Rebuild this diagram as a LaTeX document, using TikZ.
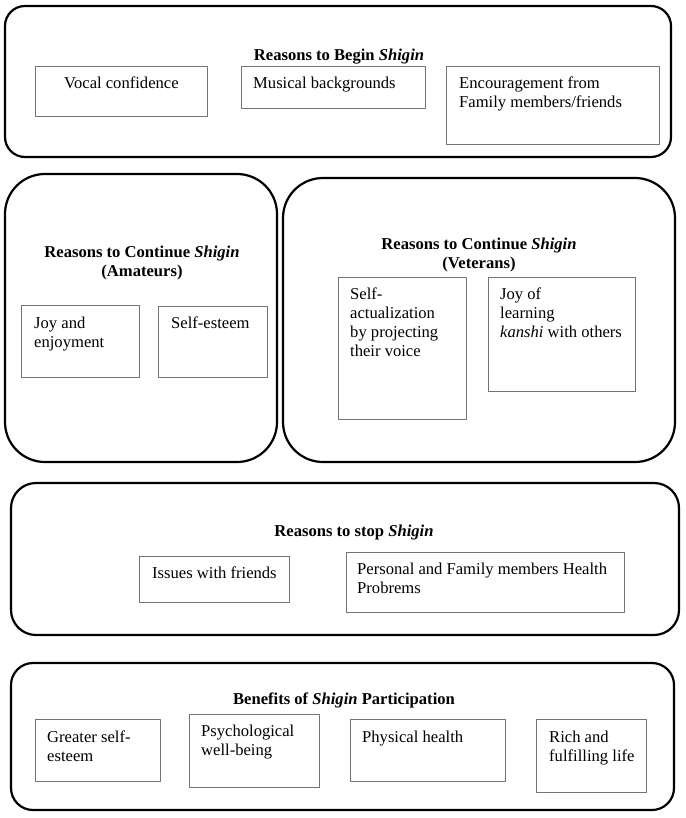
\documentclass[tikz,border=0pt]{standalone}
\usepackage{fontspec}
\setmainfont{Liberation Serif}
\usetikzlibrary{positioning}

\begin{document}
\begin{tikzpicture}[x=1pt, y=-1pt, line join=round,
    group/.style={draw, line width=2.2pt, rounded corners=#1},
    item/.style={draw=black!55, line width=0.9pt, anchor=north west, inner sep=0pt},
    txt/.style={inner sep=0pt, align=left, font=\fontsize{16.6}{18.8}\selectfont},
    head/.style={anchor=north, inner sep=0pt, align=center, font=\fontsize{16.6}{18.8}\selectfont\bfseries}]
      \useasboundingbox (0,0) rectangle (685,818);
      % reasons to begin
      \draw[group=20] (5,6) rectangle (671,157);
      \node[head] (tbegin) at (339,49) {Reasons to Begin \textit{Shigin}};
      \node[item, minimum width=172, minimum height=50] (vocal) at (35,66) {};
      \node[item, minimum width=184, minimum height=42] (musical) at (241,66) {};
      \node[item, minimum width=213, minimum height=78] (encour) at (446,66) {};
      \node[txt, below=11pt of vocal.north] (tvocal) {Vocal confidence};
      \node[txt, below right=11pt and 12pt of musical.north west] (tmusical) {Musical backgrounds};
      \node[txt, below right=11pt and 13pt of encour.north west] (tencour) {Encouragement from\\Family members/friends};
      % reasons to continue, amateurs
      \draw[group=40] (5,174) rectangle (277,462);
      \node[head] (tama) at (142,246) {Reasons to Continue \textit{Shigin}\\(Amateurs)};
      \node[item, minimum width=118, minimum height=72] (joy) at (21,305) {};
      \node[item, minimum width=109, minimum height=71] (esteem) at (158,306) {};
      \node[txt, below right=12pt and 13pt of joy.north west] (tjoy) {Joy and\\enjoyment};
      \node[txt, below right=11pt and 13pt of esteem.north west] (testeem) {Self-esteem};
      % reasons to continue, veterans
      \draw[group=40] (283,178) rectangle (675,462);
      \node[head] (tvet) at (479,238) {Reasons to Continue \textit{Shigin}\\(Veterans)};
      \node[item, minimum width=128, minimum height=142] (selfact) at (338,277) {};
      \node[item, minimum width=147, minimum height=114] (learn) at (488,277) {};
      \node[txt, below right=11pt and 12pt of selfact.north west] (tselfact) {Self-\\actualization\\by projecting\\their voice};
      \node[txt, below right=11pt and 12pt of learn.north west] (tlearn) {Joy of\\learning\\\textit{kanshi} with others};
      % reasons to stop
      \draw[group=25] (11,483) rectangle (679,635);
      \node[head] (tstop) at (354,525) {Reasons to stop \textit{Shigin}};
      \node[item, minimum width=150, minimum height=46] (issues) at (139,556) {};
      \node[item, minimum width=278, minimum height=60] (health) at (346,552) {};
      \node[txt, below right=11pt and 13pt of issues.north west] (tissues) {Issues with friends};
      \node[txt, below right=11pt and 11pt of health.north west] (thealth) {Personal and Family members Health\\Probrems};
      % benefits
      \draw[group=22] (11,663) rectangle (674,810);
      \node[head] (tben) at (344,693) {Benefits of \textit{Shigin} Participation};
      \node[item, minimum width=125, minimum height=62] (greater) at (35,719) {};
      \node[item, minimum width=130, minimum height=73] (psych) at (189,714) {};
      \node[item, minimum width=155, minimum height=62] (physical) at (350,719) {};
      \node[item, minimum width=110, minimum height=73] (rich) at (536,719) {};
      \node[txt, below right=12pt and 12pt of greater.north west] (tgreater) {Greater self-\\esteem};
      \node[txt, below right=11pt and 12pt of psych.north west] (tpsych) {Psychological\\well-being};
      \node[txt, below right=12pt and 12pt of physical.north west] (tphysical) {Physical health};
      \node[txt, below right=12pt and 13pt of rich.north west] (trich) {Rich and\\fulfilling life};
\end{tikzpicture}
\end{document}
